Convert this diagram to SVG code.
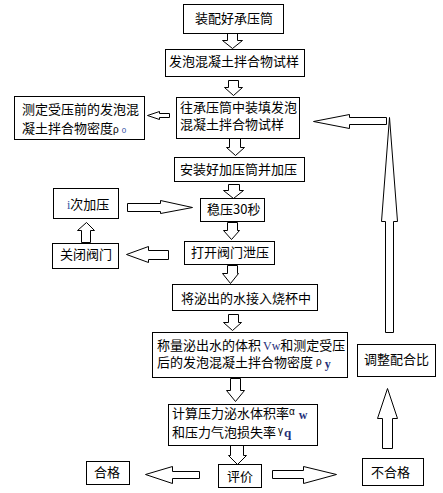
<svg xmlns="http://www.w3.org/2000/svg" width="443" height="493" viewBox="0 0 443 493">
<style>
.box{fill:#fff;stroke:#000;stroke-width:1}
.arr{fill:#fff;stroke:#000;stroke-width:1;stroke-linejoin:miter}
text{font-family:"Noto Sans CJK SC","Noto Sans",sans-serif;font-size:13px;fill:#000}
.lat{font-family:"Liberation Serif",serif;font-size:12px;fill:#1f2f7a}
.gk{font-family:"Liberation Sans",sans-serif;font-size:10px}
.sub{font-family:"Liberation Sans",sans-serif;font-size:8px;fill:#2a4aa0}
</style>
<rect width="443" height="493" fill="#fff"/>
<g id="connectors">
<polygon class="arr" points="227.5,33.5 237.5,33.5 237.5,40.5 242.5,40.5 232.5,48.5 222.5,40.5 227.5,40.5"/>
<polygon class="arr" points="228.5,80.5 238.5,80.5 238.5,87.5 242.5,87.5 233.5,95.5 224.5,87.5 228.5,87.5"/>
<polygon class="arr" points="229.5,138.5 240.5,138.5 240.5,147.5 244.5,147.5 235.5,155.5 226.5,147.5 229.5,147.5"/>
<polygon class="arr" points="228.5,184.5 239.5,184.5 239.5,190.5 243.5,190.5 233.5,198.5 223.5,190.5 228.5,190.5"/>
<polygon class="arr" points="227.5,222.5 237.5,222.5 237.5,230.5 239.5,230.5 231.5,239.5 223.5,230.5 227.5,230.5"/>
<polygon class="arr" points="227.5,265.5 237.5,265.5 237.5,273.5 238.5,273.5 230.5,283.5 222.5,273.5 227.5,273.5"/>
<polygon class="arr" points="228.5,314.5 238.5,314.5 238.5,322.5 241.5,322.5 232.5,330.5 223.5,322.5 228.5,322.5"/>
<polygon class="arr" points="230.5,378.5 240.5,378.5 240.5,390.5 244.5,390.5 235.5,401.5 226.5,390.5 230.5,390.5"/>
<polygon class="arr" points="230.5,445.5 243.5,445.5 243.5,455.5 246.5,455.5 237.5,464.5 228.5,455.5 230.5,455.5"/>
<polygon class="arr" points="169.5,113.5 159.5,113.5 159.5,111.5 147.5,115.5 159.5,119.5 159.5,117.5 169.5,117.5"/>
<polygon class="arr" points="127.5,203.5 160.5,203.5 160.5,200.5 192.5,207.5 160.5,213.5 160.5,211.5 127.5,211.5"/>
<polygon class="arr" points="168.5,250.5 148.5,250.5 148.5,246.5 126.5,254.5 148.5,262.5 148.5,259.5 168.5,259.5"/>
<polygon class="arr" points="81.5,242.5 90.5,242.5 90.5,230.5 94.5,230.5 86.5,222.5 77.5,230.5 81.5,230.5"/>
<polygon class="arr" points="199.5,471.5 172.5,471.5 172.5,466.5 145.5,474.5 172.5,483.5 172.5,478.5 199.5,478.5"/>
<polygon class="arr" points="272.5,470.5 303.5,470.5 303.5,466.5 336.5,474.5 303.5,483.5 303.5,478.5 272.5,478.5"/>
<polygon class="arr" points="382.5,448.5 392.5,448.5 392.5,418.5 397.5,418.5 387.5,388.5 377.5,418.5 382.5,418.5"/>
<polygon class="arr" points="385.5,332.5 393.5,332.5 393.5,221.5 397.5,221.5 389.5,117.5 381.5,221.5 385.5,221.5"/>
<polygon class="arr" points="386.5,117.5 349.5,117.5 349.5,114.5 313.5,121.5 349.5,128.5 349.5,124.5 386.5,124.5"/>
</g>
<g id="n1"><rect class="box" x="183.5" y="4.5" width="100" height="29"/><text x="195" y="23">装配好承压筒</text></g>
<g id="n2"><rect class="box" x="165.5" y="49.5" width="139" height="27"/><text x="169" y="66">发泡混凝土拌合物试样</text></g>
<g id="n3"><rect class="box" x="176.5" y="97.5" width="123" height="41"/><text x="180" y="111.5">往承压筒中装填发泡</text><text x="180" y="129">混凝土拌合物试样</text></g>
<g id="n4"><rect class="box" x="14.5" y="96.5" width="130" height="43"/><text x="22" y="114">测定受压前的发泡混</text><text x="22" y="132.5">凝土拌合物密度<tspan class="gk">ρ</tspan><tspan class="sub" dx="3">0</tspan></text></g>
<g id="n5"><rect class="box" x="174.5" y="157.5" width="130" height="24"/><text x="180" y="174">安装好加压筒并加压</text></g>
<g id="n6"><rect class="box" x="200.5" y="198.5" width="64" height="23"/><text x="207" y="214">稳压30秒</text></g>
<g id="n7"><rect class="box" x="53.5" y="188.5" width="65" height="30"/><text x="67" y="208.5"><tspan class="lat" style="fill:#3050a0">i</tspan>次加压</text></g>
<g id="n8"><rect class="box" x="52.5" y="243.5" width="66" height="25"/><text x="60" y="259">关闭阀门</text></g>
<g id="n9"><rect class="box" x="184.5" y="241.5" width="90" height="23"/><text x="191" y="256.5">打开阀门泄压</text></g>
<g id="n10"><rect class="box" x="172.5" y="284.5" width="145" height="26"/><text x="181" y="302.5">将泌出的水接入烧杯中</text></g>
<g id="n11"><rect class="box" x="152.5" y="332.5" width="195" height="45"/><text x="157" y="349.5">称量泌出水的体积<tspan class="lat" dx="2">Vw</tspan>和测定受压</text><text x="157" y="367">后的发泡混凝土拌合物密度<tspan class="gk" dx="3" dy="-2">ρ</tspan><tspan class="lat" dx="3" dy="3" style="font-weight:bold">y</tspan></text></g>
<g id="n12"><rect class="box" x="168.5" y="404.5" width="149" height="41"/><text x="172" y="417.5">计算压力泌水体积率<tspan class="gk" dy="-3">α</tspan><tspan class="lat" dx="4" dy="4" style="font-weight:bold">w</tspan></text><text x="172" y="437">和压力气泡损失率<tspan class="gk" dx="2" dy="-3">γ</tspan><tspan class="lat" dx="1" dy="3" style="font-weight:bold;font-size:13px">q</tspan></text></g>
<g id="n13"><rect class="box" x="218.5" y="464.5" width="43" height="23"/><text x="227" y="481">评价</text></g>
<g id="n14"><rect class="box" x="86.5" y="461.5" width="43" height="23"/><text x="94" y="477">合格</text></g>
<g id="n15"><rect class="box" x="362.5" y="458.5" width="61" height="27"/><text x="371" y="476.5">不合格</text></g>
<g id="n16"><rect class="box" x="357.5" y="344.5" width="78" height="32"/><text x="364" y="364">调整配合比</text></g>
</svg>
